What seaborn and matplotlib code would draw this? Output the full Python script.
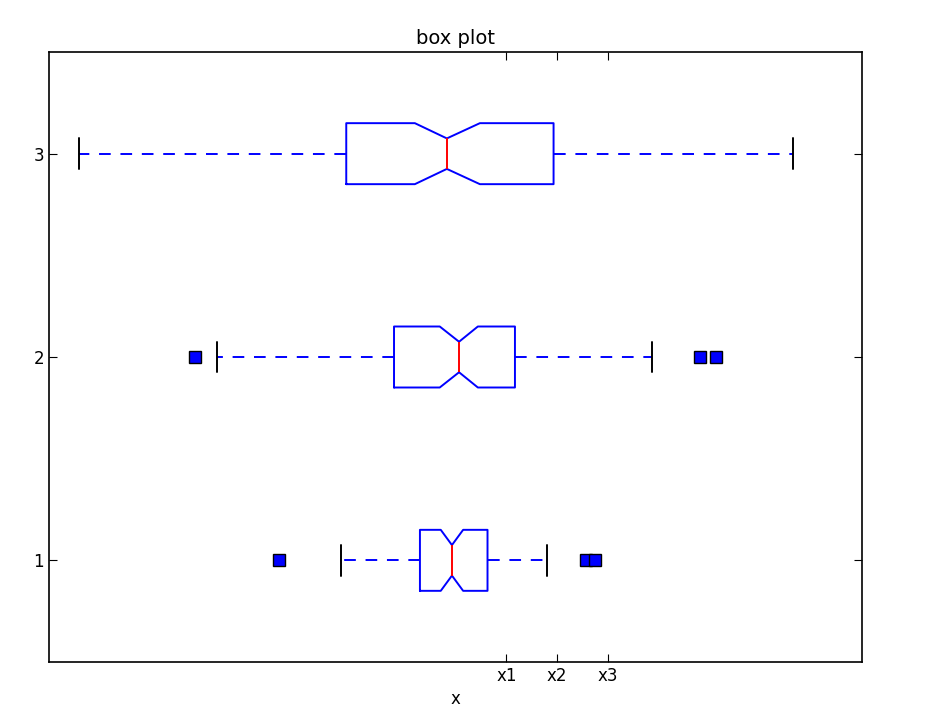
import matplotlib
matplotlib.use("Agg")
import matplotlib.pyplot as plt
import seaborn as sns

# box statistics (one entry per box, bottom to top)
positions = [1, 2, 3]
whislo = [-2.25, -4.69, -7.40]
q1 = [-0.70, -1.21, -2.15]
cilo = [-0.29, -0.31, -0.80]
med = [-0.07, 0.07, -0.17]
cihi = [0.15, 0.44, 0.48]
q3 = [0.63, 1.17, 1.93]
whishi = [1.80, 3.86, 6.65]
fliers = [[-3.47, 2.57, 2.75], [-5.12, 4.82, 5.12], []]

xtick_pos = [1, 2, 3]
xtick_labels = ['x1', 'x2', 'x3']
ytick_labels = ['1', '2', '3']

sns.set_style("ticks")
plt.rcParams['font.family'] = ['DejaVu Sans']
plt.rcParams['text.color'] = 'black'
plt.rcParams['axes.labelcolor'] = 'black'
plt.rcParams['xtick.color'] = 'black'
plt.rcParams['ytick.color'] = 'black'
plt.rcParams['xtick.direction'] = 'in'
plt.rcParams['ytick.direction'] = 'in'
plt.rcParams['xtick.top'] = True
plt.rcParams['ytick.right'] = True

stats = []
for i in range(len(positions)):
    stats.append({'whislo': whislo[i], 'q1': q1[i], 'med': med[i], 'q3': q3[i],
                  'whishi': whishi[i], 'cilo': cilo[i], 'cihi': cihi[i],
                  'fliers': fliers[i], 'label': ytick_labels[i]})

fig = plt.figure(figsize=(9.29, 7.2), dpi=100, facecolor='white')
ax = fig.add_axes([49 / 929, 1 - 662 / 720, 813 / 929, 610 / 720])

ax.bxp(stats, positions=positions, widths=0.3, orientation='horizontal',
       shownotches=True,
       boxprops=dict(color='blue', linewidth=1.4),
       medianprops=dict(color='red', linewidth=1.4),
       whiskerprops=dict(color='blue', linewidth=1.4, linestyle=(0, (6, 5))),
       capprops=dict(color='black', linewidth=1.4),
       flierprops=dict(marker='s', markerfacecolor='blue', markeredgecolor='black',
                       markersize=8, linestyle='none'))

ax.set_xlim(-8, 8)
ax.set_ylim(0.5, 3.5)
ax.set_xticks(xtick_pos)
ax.set_xticklabels(xtick_labels)
ax.set_yticks(positions)
ax.set_yticklabels(ytick_labels)
ax.tick_params(labelsize=12, length=6, width=0.8, color='black', labelcolor='black')
for s in ax.spines.values():
    s.set_color('black')
    s.set_linewidth(1.2)
ax.set_title('box plot', fontsize=14, color='black')
ax.set_xlabel('x', fontsize=12)

fig.savefig('out.png', dpi=100, facecolor='white')
